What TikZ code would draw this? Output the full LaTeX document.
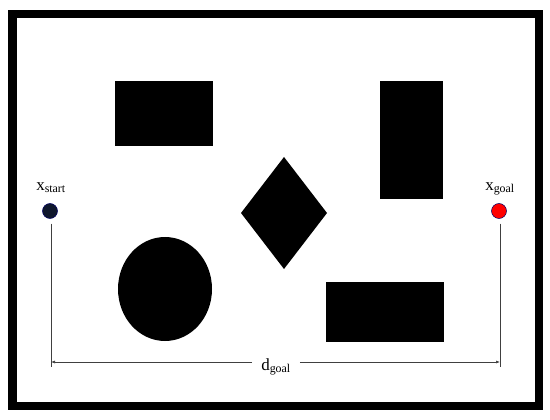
\documentclass[tikz,border=0pt]{standalone}
\usepackage{fontspec}
\setmainfont{Liberation Serif}
\usetikzlibrary{shapes.geometric,arrows.meta}
\begin{document}
\begin{tikzpicture}[x=1pt,y=-1pt,
  obst/.style={fill=black,draw=none},
  lab/.style={font=\fontsize{17}{19}\selectfont,inner sep=0pt},
  dimline/.style={draw=black!75,line width=0.6pt},
  pt/.style={circle,minimum size=15pt,inner sep=0pt,draw=blue!40!black,line width=0.5pt}]
\useasboundingbox (0,0) rectangle (550,420);
\fill[white] (0,0) rectangle (550,420);
\draw[line width=8.5pt] (12.5,14) rectangle (539,406);
% obstacles
\fill (115,81) rectangle (213,146);
\fill (380,81) rectangle (443,199);
\fill (326,282) rectangle (444,342);
\fill (165,289) ellipse [x radius=47,y radius=52];
\fill (284,157) -- (327,213) -- (284,269) -- (241,213) -- cycle;
% points
\node[pt,fill={rgb,255:red,14;green,22;blue,44}] (s) at (50,211) {};
\node[pt,fill=red] (g) at (499,211) {};
\node[lab,anchor=base] (ls) at (51,190) {x\textsubscript{start}};
\node[lab,anchor=base] (lg) at (500,190) {x\textsubscript{goal}};
\coordinate (sb) at (51,367);
\coordinate (gb) at (500,367);
\draw[dimline] (s.south -| sb) ++(0,5) -- (sb);
\draw[dimline] (g.south -| gb) ++(0,5) -- (gb);
\coordinate (sa) at (51,362);
\coordinate (ga) at (500,362);
\node[lab,fill=white,inner xsep=9pt,inner ysep=2pt] (d) at (276,367) {d\textsubscript{goal}};
\draw[dimline,-{Latex[length=4pt,width=3pt]}] (d.west |- sa) -- (sa);
\draw[dimline,-{Latex[length=4pt,width=3pt]}] (d.east |- ga) -- (ga);
\end{tikzpicture}
\end{document}
